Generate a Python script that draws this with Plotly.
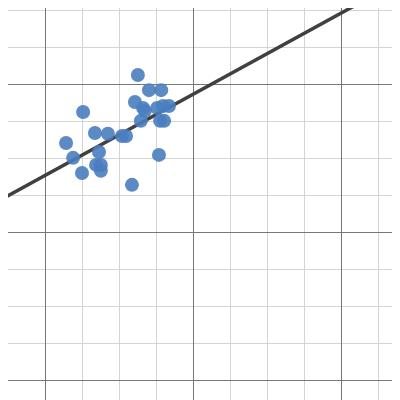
import plotly.graph_objects as go

xs = [2.51,1.03,2.81,3.14,2.43,2.65,2.70,3.03,3.19,3.35,2.59,3.11,3.22,0.57,1.35,1.70,2.08,2.19,1.46,0.76,1.38,1.51,1.51,1.00,3.08,2.35]
ys = [4.27,3.27,3.86,3.86,3.54,3.38,3.30,3.38,3.43,3.43,3.03,3.03,3.03,2.43,2.70,2.68,2.62,2.62,2.19,2.03,1.84,1.84,1.68,1.62,2.11,1.30]
slope = 0.548
intercept = 1.557
x_range = [-1.0, 9.81]
y_range = [-4.73, 6.08]

fig = go.Figure()
lx = [-1.5, 10.5]
fig.add_trace(go.Scatter(x=lx, y=[slope*v+intercept for v in lx], mode="lines",
                         line=dict(color="#404040", width=3.5), hoverinfo="skip"))
fig.add_trace(go.Scatter(x=xs, y=ys, mode="markers",
                         marker=dict(color="#4a7dbf", size=14, opacity=0.9, line=dict(width=0))))
ax = dict(dtick=4, tick0=0, showgrid=True, gridcolor="#777777", gridwidth=1,
          zeroline=True, zerolinecolor="#777777", zerolinewidth=1,
          showticklabels=False, ticks="", showline=False,
          minor=dict(dtick=1, tick0=0, showgrid=True, gridcolor="#d4d4d4", gridwidth=1))
fig.update_layout(width=400, height=400, margin=dict(l=0, r=0, t=0, b=0, pad=0),
                  plot_bgcolor="white", paper_bgcolor="white", showlegend=False,
                  xaxis=dict(ax, range=x_range), yaxis=dict(ax, range=y_range))
fig.write_html("out.html")
